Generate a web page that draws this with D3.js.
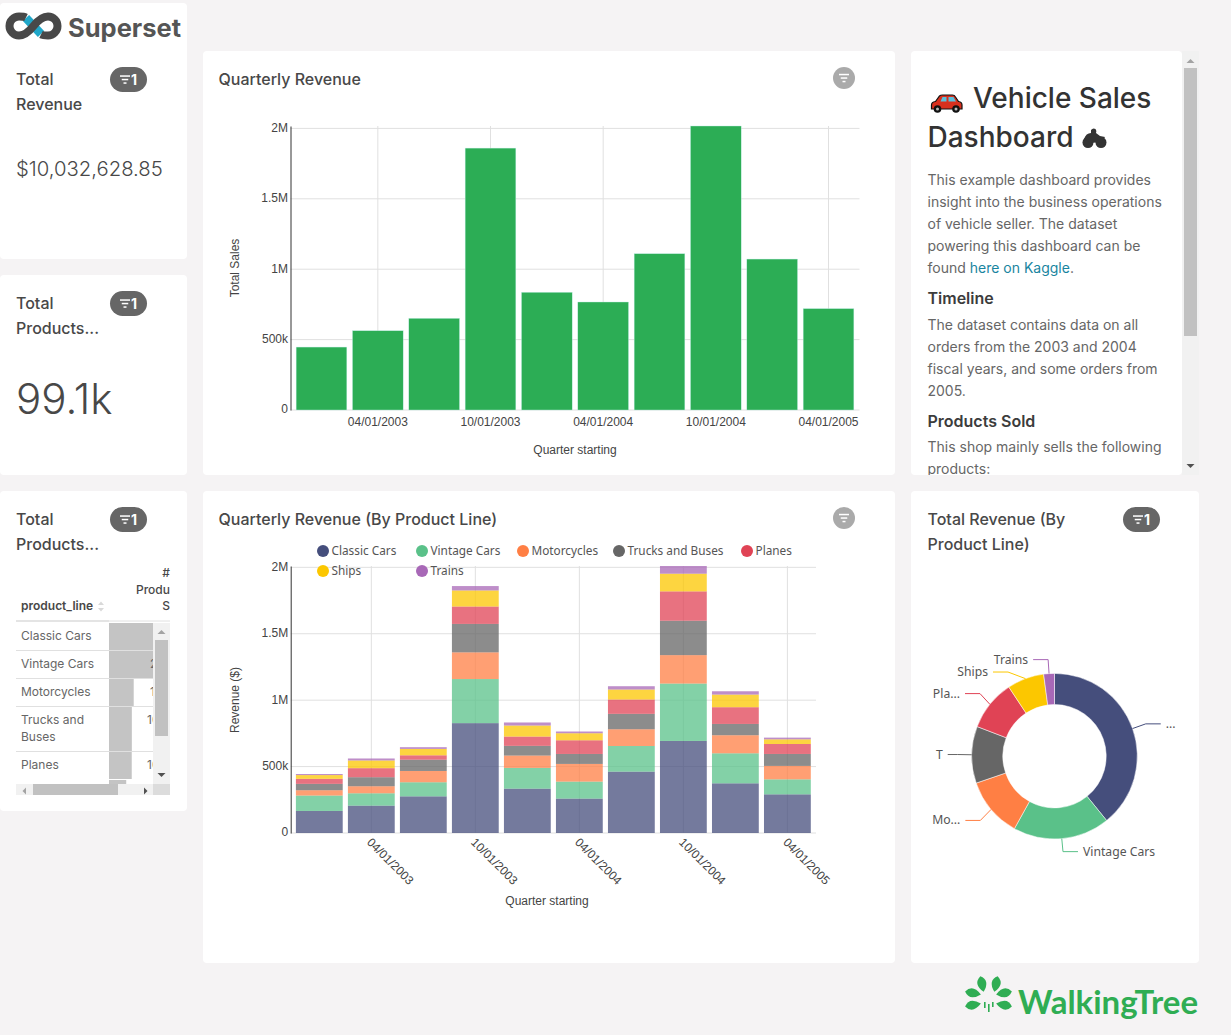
<!DOCTYPE html>
<html>
<head>
<meta charset="utf-8">
<script src="https://cdnjs.cloudflare.com/ajax/libs/d3/7.8.5/d3.min.js"></script>
<style>
body {margin:0; background:#f5f3f4;}
svg {display:block;}
text {font-family:Inter, sans-serif;}
.axis text, .axlabel {font-family:"Liberation Sans", Arial, sans-serif; font-size:12px; fill:#444;}
.axis path {stroke:#333;}
.legend text {font-family:"Noto Sans", sans-serif; font-size:11.8px; fill:#555;}
.pielabel {font-family:"Noto Sans", sans-serif; font-size:12.2px; fill:#555;}
.title {font-size:16px; font-weight:500; fill:#484848;}
.body {font-size:14px; fill:#666;}
.h3 {font-size:16px; font-weight:600; fill:#3c3c3c;}
.h1 {font-size:28px; font-weight:500; fill:#333;}
</style>
</head>
<body>
<script>
// values
const quarters = ["01/01/2003","04/01/2003","07/01/2003","10/01/2003","01/01/2004","04/01/2004","07/01/2004","10/01/2004","01/01/2005","04/01/2005"];
const quarterTicks = ["04/01/2003","10/01/2003","04/01/2004","10/01/2004","04/01/2005"];
const totalSales = [447000,563000,651000,1860000,836000,767000,1110000,2017000,1072000,720000];
const yTicks = [0,500000,1000000,1500000,2000000];

const productLines = ["Classic Cars","Vintage Cars","Motorcycles","Trucks and Buses","Planes","Ships","Trains"];
const lineColors = ["#454E7C","#5AC189","#FF7F44","#666666","#E04355","#FCC700","#A868B7"];
const classicCars = [166000,206000,276000,827000,334000,259000,462000,693000,374000,291000];
const vintageCars = [116000,93000,106000,332000,156000,128000,193000,432000,226000,113000];
const motorcycles = [40000,53000,85000,201000,93000,133000,126000,214000,136000,101000];
const trucksBuses = [48000,68000,85000,214000,73000,75000,116000,259000,85000,90000];
const planes = [38000,68000,33000,131000,70000,103000,108000,221000,126000,75000];
const ships = [28000,58000,48000,121000,83000,53000,75000,133000,95000,35000];
const trains = [8000,15000,13000,33000,23000,13000,25000,58000,25000,13000];
const lineSeries = [classicCars,vintageCars,motorcycles,trucksBuses,planes,ships,trains];

const lineTotals = [3920000,1890000,1170000,1110000,990000,720000,210000];
const pieLabels = ["...","Vintage Cars","Mo...","T","Pla...","Ships","Trains"];

const tableNames = ["Classic Cars","Vintage Cars","Motorcycles","Trucks and Buses","Planes","Ships"];
const tableUnits = [33990,21070,11660,10780,10730,8130];
const tableText = ["33.99k","21.07k","11.66k","10.78k","10.73k","8.13k"];

const svg = d3.select("body").append("svg").attr("width",1231).attr("height",1035);

// cards
const cards = [[0,3,187,256],[0,275,187,200],[0,491,187,320],[203,51,692,424],[203,491,692,472],[911,51,271,424],[911,491,288,472]];
svg.selectAll("rect.card").data(cards).join("rect").attr("class","card")
    .attr("x",d=>d[0]).attr("y",d=>d[1]).attr("width",d=>d[2]).attr("height",d=>d[3])
    .attr("rx",4).attr("fill","#fff");

// titles
function lines(g,arr,x,y,step,cls) {
    arr.forEach((t,i)=>g.append("text").attr("class",cls).attr("x",x).attr("y",y+i*step).text(t));
}
lines(svg,["Total","Revenue"],16,85,25,"title");
lines(svg,["Total","Products..."],16,309,25,"title");
lines(svg,["Total","Products..."],16,525,25,"title");
lines(svg,["Quarterly Revenue"],218.500,85,25,"title");
lines(svg,["Quarterly Revenue (By Product Line)"],218.500,525,25,"title");
lines(svg,["Total Revenue (By","Product Line)"],927.500,525,25,"title");

svg.append("text").attr("x",16).attr("y",175.500).attr("font-size",20.300).attr("font-weight",300).attr("fill","#484848").text("$10,032,628.85");
svg.append("text").attr("x",16).attr("y",414).attr("font-size",42).attr("font-weight",300).attr("fill","#484848").text("99.1k");

// filter badges
function funnel(g,cx,cy,color) {
    [[10,-3.500],[6.500,0],[3,3.500]].forEach(d=>g.append("rect")
        .attr("x",cx-d[0]/2).attr("y",cy+d[1]-.7).attr("width",d[0]).attr("height",1.500).attr("fill",color));
}
[[110,67],[110,291],[110,507],[1123,507]].forEach(d=>{
    svg.append("rect").attr("x",d[0]).attr("y",d[1]).attr("width",37).attr("height",25).attr("rx",12.500).attr("fill","#666");
    funnel(svg,d[0]+15,d[1]+12.500,"#fff");
    svg.append("text").attr("x",d[0]+21).attr("y",d[1]+17.500).attr("font-size",14).attr("font-weight",700).attr("fill","#fff").text("1");
});
[[844,78],[844,518]].forEach(d=>{
    svg.append("circle").attr("cx",d[0]).attr("cy",d[1]).attr("r",11).attr("fill","#aaa");
    funnel(svg,d[0],d[1],"#fff");
});

const fmt = d => d===0 ? "0" : d>=1e6 ? (d/1e6)+"M" : (d/1e3)+"k";

// shared chart frame: grid, axes
function frame(x,y,xLeft,xRight) {
    const g = svg.append("g");
    const top = y.range()[1], bottom = y.range()[0];
    g.selectAll("line.h").data(yTicks).join("line").attr("class","h")
        .attr("x1",xLeft).attr("x2",xRight).attr("y1",d=>y(d)).attr("y2",d=>y(d))
        .attr("stroke","#e0e0e0");
    g.selectAll("line.v").data(quarterTicks).join("line").attr("class","v")
        .attr("x1",d=>x(d)+x.bandwidth()/2).attr("x2",d=>x(d)+x.bandwidth()/2)
        .attr("y1",top).attr("y2",bottom).attr("stroke","#e0e0e0");
    return g;
}
function axes(x,y,xLeft,rotate) {
    const bottom = y.range()[0];
    const ay = svg.append("g").attr("class","axis").attr("transform",`translate(${xLeft},0)`)
        .call(d3.axisLeft(y).tickValues(yTicks).tickFormat(fmt).tickSize(0).tickPadding(2.500));
    ay.select(".domain").attr("stroke","#333");
    ay.selectAll("text").attr("transform","translate(0,-1)");
    const ax = svg.append("g").attr("class","axis").attr("transform",`translate(0,${bottom})`)
        .call(d3.axisBottom(x).tickValues(quarterTicks).tickSize(0).tickPadding(7));
    ax.select(".domain").remove();
    if (rotate) {
        ax.selectAll("text").attr("text-anchor","start").attr("dy",0).attr("y",0)
            .attr("transform","translate(-5,10) rotate(45)");
    }
}

// Quarterly Revenue
const x1 = d3.scaleBand().domain(quarters).range([290.500,859.500]).padding(.1);
const y1 = d3.scaleLinear().domain([0,2017000]).range([410,126]);
frame(x1,y1,290.500,859.500);
svg.append("g").selectAll("rect").data(totalSales).join("rect")
    .attr("x",(d,i)=>x1(quarters[i])).attr("width",x1.bandwidth())
    .attr("y",d=>y1(d)).attr("height",d=>y1(0)-y1(d))
    .attr("fill","#2CAD55").attr("stroke","#bfeee6").attr("stroke-width",.4);
axes(x1,y1,290.500,false);
svg.append("text").attr("class","axlabel").attr("text-anchor","middle")
    .attr("transform","translate(239,268) rotate(-90)").text("Total Sales");
svg.append("text").attr("class","axlabel").attr("text-anchor","middle").attr("x",575).attr("y",454).text("Quarter starting");

// Quarterly Revenue (By Product Line)
const x2 = d3.scaleBand().domain(quarters).range([290.700,816]).padding(.1);
const y2 = d3.scaleLinear().domain([0,2010000]).range([833,566]);
frame(x2,y2,290.700,816);
const rows = quarters.map((q,i)=>{
    const row = {quarter:q};
    productLines.forEach((p,k)=>row[p] = lineSeries[k][i]);
    return row;
});
const stacked = d3.stack().keys(productLines)(rows);
svg.append("g").selectAll("g").data(stacked).join("g")
    .attr("fill",(d,i)=>lineColors[i]).attr("fill-opacity",.75)
    .selectAll("rect").data(d=>d).join("rect")
    .attr("x",d=>x2(d.data.quarter)).attr("width",x2.bandwidth())
    .attr("y",d=>y2(d[1])).attr("height",d=>y2(d[0])-y2(d[1]));
axes(x2,y2,290.700,true);
svg.append("text").attr("class","axlabel").attr("text-anchor","middle")
    .attr("transform","translate(239,700) rotate(-90)").text("Revenue ($)");
svg.append("text").attr("class","axlabel").attr("text-anchor","middle").attr("x",547).attr("y",905).text("Quarter starting");

// legend
const legendPos = [[323,551],[422,551],[523,551],[619,551],[747,551],[323,571],[422,571]];
const legend = svg.append("g").attr("class","legend").selectAll("g").data(productLines).join("g")
    .attr("transform",(d,i)=>`translate(${legendPos[i]})`);
legend.append("circle").attr("r",6).attr("fill",(d,i)=>lineColors[i]);
legend.append("text").attr("x",8.500).attr("y",4).text(d=>d);

// donut
const cx = 1054.500, cy = 756.200, R = 82.800;
const pie = d3.pie().sort(null).value(d=>d)(lineTotals);
const arc = d3.arc().innerRadius(51.700).outerRadius(R);
const donut = svg.append("g").attr("transform",`translate(${cx},${cy})`);
donut.selectAll("path").data(pie).join("path").attr("d",arc)
    .attr("fill",(d,i)=>lineColors[i]).attr("stroke","#fff").attr("stroke-width",.5);
// labels pushed apart the way the original layout did it
const labelShift = [[0,0],[0,-1],[0,2],[0,0],[1,-2],[-12.600,6.500],[0,0]];
pie.forEach((d,i)=>{
    const mid = (d.startAngle+d.endAngle)/2;
    const p0 = [R*Math.sin(mid),-R*Math.cos(mid)];
    const p1 = [(R+14)*Math.sin(mid)+labelShift[i][0],-(R+14)*Math.cos(mid)+labelShift[i][1]];
    const right = Math.sin(mid)>0;
    const len = i===3 ? 10 : 15;
    const p2 = [p1[0]+(right?len:-len),p1[1]];
    donut.append("path").attr("d",d3.line()([p0,p1,p2])).attr("fill","none").attr("stroke",lineColors[i]);
    donut.append("text").attr("class","pielabel")
        .attr("x",p2[0]+(right?5:-5)).attr("y",p2[1]+4)
        .attr("text-anchor",right?"start":"end").text(pieLabels[i]);
});

// table
const tb = svg.append("g");
svg.append("clipPath").attr("id","tableclip").append("rect").attr("x",16).attr("y",560).attr("width",137).attr("height",224);
const rowEdges = [623,651,679,707,752,780,808];
const rowTextY = [640,668,696,724,769,797];
const numStart = [155,150,150,147,147,150];
const tw = d3.scaleLinear().domain([0,d3.max(tableUnits)]).range([0,72]);
const tc = tb.append("g").attr("clip-path","url(#tableclip)");
tc.selectAll("rect").data(tableUnits).join("rect")
    .attr("x",109).attr("y",(d,i)=>rowEdges[i]).attr("width",d=>tw(d))
    .attr("height",(d,i)=>rowEdges[i+1]-rowEdges[i]-1).attr("fill","#c4c4c4");
tc.selectAll("text.num").data(tableText).join("text").attr("class","num")
    .attr("x",(d,i)=>numStart[i]).attr("y",(d,i)=>rowTextY[i]).attr("font-size",12).attr("fill","#666").text(d=>d);
tc.selectAll("line").data(rowEdges.slice(1,5)).join("line")
    .attr("x1",16).attr("x2",153).attr("y1",d=>d-.5).attr("y2",d=>d-.5).attr("stroke","#e0e0e0");
tableNames.slice(0,5).forEach((n,i)=>{
    const parts = n==="Trucks and Buses" ? ["Trucks and","Buses"] : [n];
    parts.forEach((t,k)=>tb.append("text").attr("x",21).attr("y",rowTextY[i]+k*17).attr("font-size",12).attr("fill","#666").text(t));
});
tb.append("text").attr("x",21).attr("y",610).attr("font-size",12).attr("font-weight",600).attr("fill","#484848").text("product_line");
tb.append("path").attr("d","M98 605l3-3.500 3 3.500zM98 608l3 3.500 3-3.500z").attr("fill","#d9d9d9");
[["#",170,577],["Produ",170,594],["S",170,610]].forEach(d=>tb.append("text").attr("x",d[1]).attr("y",d[2])
    .attr("text-anchor","end").attr("font-size",12).attr("font-weight",500).attr("fill","#484848").text(d[0]));
tb.append("line").attr("x1",16).attr("x2",170).attr("y1",621).attr("y2",621).attr("stroke","#e0e0e0");
tb.append("rect").attr("x",16).attr("y",620).attr("width",93).attr("height",2).attr("fill","#e4e4e4");
// table scrollbars
tb.append("rect").attr("x",153).attr("y",623).attr("width",17).attr("height",161).attr("fill","#f1f1f1");
tb.append("rect").attr("x",155).attr("y",640).attr("width",13).attr("height",96).attr("fill","#c1c1c1");
tb.append("rect").attr("x",16).attr("y",784).attr("width",137).attr("height",11).attr("fill","#f1f1f1");
tb.append("rect").attr("x",33).attr("y",784).attr("width",85).attr("height",11).attr("fill","#c1c1c1");
tb.append("rect").attr("x",153).attr("y",784).attr("width",17).attr("height",11).attr("fill","#dcdcdc");
tb.append("path").attr("d","M157.500 634l4-4 4 4z").attr("fill","#a3a3a3");
tb.append("path").attr("d","M157.500 773l4 4 4-4z").attr("fill","#505050");
tb.append("path").attr("d","M26 787.500l-3.500 3.500 3.500 3.500z").attr("fill","#a3a3a3");
tb.append("path").attr("d","M144 787.500l3.500 3.500-3.500 3.500z").attr("fill","#505050");

// markdown panel
svg.append("clipPath").attr("id","mdclip").append("rect").attr("x",911).attr("y",51).attr("width",271).attr("height",424);
const md = svg.append("g").attr("clip-path","url(#mdclip)");
md.append("text").attr("class","h1").attr("x",973).attr("y",108).text("Vehicle Sales");
md.append("text").attr("class","h1").attr("x",927.500).attr("y",147).text("Dashboard");
// car emoji
const car = md.append("g").attr("transform","translate(930.500,94)");
car.append("path").attr("d","M1 11 Q1 8 5 7.500 L9 2 Q10 1 12 1 L22 1 Q24 1 25 3 L28 7.500 Q31.500 8 31.500 11 L31.500 15 L1 15 Z").attr("fill","#d8301e").attr("stroke","#111").attr("stroke-width",1.200);
car.append("path").attr("d","M10 7.500 L12 3 L16 3 L16 7.500 Z M18 7.500 L18 3 L23 3 L25.500 7.500 Z").attr("fill","#5cc0dc");
[7,25.500].forEach(x=>{
    car.append("circle").attr("cx",x).attr("cy",15).attr("r",3.800).attr("fill","#111");
    car.append("circle").attr("cx",x).attr("cy",15).attr("r",1.500).attr("fill","#bbb");
});
// motorcycle emoji
const bike = md.append("g").attr("transform","translate(1082,128)").attr("fill","#333");
bike.append("circle").attr("cx",6).attr("cy",14.500).attr("r",5.500);
bike.append("circle").attr("cx",19).attr("cy",14.500).attr("r",5.500);
bike.append("path").attr("d","M2 11 Q4 5 9 5 L9 2 Q11 -.5 13.500 1 Q15 3 14 5 L18 8 L23 9 L20 14 L8 15 Z");
const bodyA = ["This example dashboard provides","insight into the business operations","of vehicle seller. The dataset","powering this dashboard can be"];
lines(md,bodyA,927.500,185,22,"body");
const kaggle = md.append("text").attr("class","body").attr("x",927.500).attr("y",273);
kaggle.append("tspan").text("found ");
kaggle.append("tspan").attr("fill","#1985a0").text("here on Kaggle");
kaggle.append("tspan").text(".");
lines(md,["Timeline"],927.500,304,22,"h3");
lines(md,["The dataset contains data on all","orders from the 2003 and 2004","fiscal years, and some orders from","2005."],927.500,330,22,"body");
lines(md,["Products Sold"],927.500,427,22,"h3");
lines(md,["This shop mainly sells the following","products:"],927.500,452,22,"body");
// panel scrollbar
svg.append("rect").attr("x",1182).attr("y",51).attr("width",17).attr("height",424).attr("fill","#f1f1f1");
svg.append("rect").attr("x",1184).attr("y",68).attr("width",13).attr("height",268).attr("fill","#c1c1c1");
svg.append("path").attr("d","M1186.500 63l4-4 4 4z").attr("fill","#a3a3a3");
svg.append("path").attr("d","M1186.500 464l4 4 4-4z").attr("fill","#505050");

// Superset logo
const logo = svg.append("g");
logo.append("path").attr("d","M26 18 L41 34").attr("stroke","#20a7c9").attr("stroke-width",8.500).attr("fill","none");
logo.append("path").attr("d","M26 17.500 C24 16.500 21.500 16.500 19 16.500 A9.500 9.500 0 0 0 19 35.500 C25 35.500 29.500 31 33.500 26 C37.500 21 42 16.500 48 16.500 A9.500 9.500 0 0 1 48 35.500 C45.500 35.500 43 35.500 41 34.500")
    .attr("stroke","#484848").attr("stroke-width",8).attr("fill","none");
logo.append("text").attr("x",68).attr("y",37).attr("font-size",25.500).attr("font-weight",700).attr("fill","#555").text("Superset");

// WalkingTree logo
const wt = svg.append("g").attr("fill","#2fad53");
const leaf = "M0 -8 Q9 -2 0 8 Q-9 -2 0 -8Z";
[[982,984,-12],[996,984,12],[973,993,-80],[1004,993,80],[973,1005,-100],[1004,1005,100]].forEach(d=>
    wt.append("path").attr("d",leaf).attr("transform",`translate(${d[0]},${d[1]}) rotate(${d[2]})`));
[[984,1002,6],[988,1004,8],[992,1002,5]].forEach(d=>
    wt.append("rect").attr("x",d[0]).attr("y",d[1]).attr("width",1.600).attr("height",d[2]));
wt.append("text").attr("x",1018).attr("y",1014).attr("font-size",33).attr("font-weight",700)
    .style("font-family","Lato").text("WalkingTree");
</script>
</body>
</html>
